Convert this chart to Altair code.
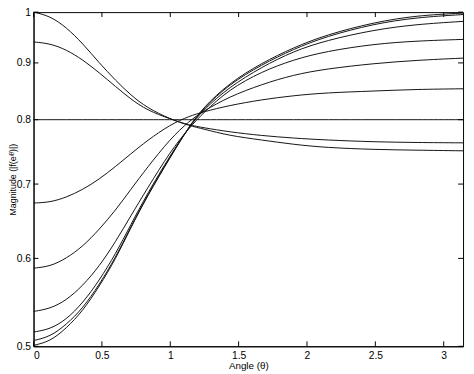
import altair as alt
import pandas as pd

theta = [0, 0.12, 0.24, 0.36, 0.48, 0.6, 0.71, 0.83, 1.0, 1.14, 1.24, 1.43,
         1.67, 1.9, 2.14, 2.49, 2.8, 3.1416]
curve_a = [1.0, 0.992, 0.969, 0.937, 0.900, 0.868, 0.842, 0.820, 0.801, 0.790,
           0.785, 0.774, 0.767, 0.760, 0.755, 0.752, 0.751, 0.750]
curve_b = [0.940, 0.937, 0.925, 0.906, 0.882, 0.857, 0.835, 0.816, 0.801, 0.791,
           0.787, 0.780, 0.774, 0.770, 0.767, 0.764, 0.763, 0.7625]
curve_c = [0.8, 0.8, 0.8, 0.8, 0.8, 0.8, 0.8, 0.8, 0.8, 0.8,
           0.8, 0.8, 0.8, 0.8, 0.8, 0.8, 0.8, 0.8]
curve_d = [0.673, 0.674, 0.681, 0.692, 0.707, 0.726, 0.745, 0.766, 0.792, 0.806,
           0.813, 0.824, 0.834, 0.841, 0.846, 0.849, 0.852, 0.853]
curve_e = [0.588, 0.590, 0.600, 0.615, 0.637, 0.663, 0.692, 0.724, 0.769, 0.798,
           0.814, 0.839, 0.861, 0.878, 0.889, 0.899, 0.905, 0.909]
curve_f = [0.5375, 0.5405, 0.550, 0.567, 0.590, 0.621, 0.655, 0.693, 0.749, 0.787,
           0.811, 0.852, 0.884, 0.906, 0.922, 0.936, 0.942, 0.945]
curve_g = [0.515, 0.518, 0.5285, 0.547, 0.573, 0.6055, 0.643, 0.6855, 0.743, 0.789,
           0.816, 0.856, 0.8925, 0.922, 0.943, 0.964, 0.975, 0.981]
curve_h = [0.506, 0.510, 0.523, 0.541, 0.568, 0.601, 0.640, 0.683, 0.741, 0.789,
           0.8186, 0.861, 0.897, 0.926, 0.951, 0.976, 0.989, 0.995]
curve_i = [0.501, 0.505, 0.519, 0.538, 0.566, 0.599, 0.639, 0.682, 0.740, 0.790,
           0.820, 0.863, 0.900, 0.929, 0.954, 0.979, 0.993, 0.998]

x_ticks = [0, 0.5, 1, 1.5, 2, 2.5, 3]
y_ticks = [0.5, 0.6, 0.7, 0.8, 0.9, 1]

curves = {"a": curve_a, "b": curve_b, "c": curve_c, "d": curve_d, "e": curve_e,
          "f": curve_f, "g": curve_g, "h": curve_h, "i": curve_i}
rows = []
for name, vals in curves.items():
    for t, v in zip(theta, vals):
        rows.append({"curve": name, "theta": t, "mag": v})
df = pd.DataFrame(rows)
df_xt = pd.DataFrame({"theta": x_ticks})
df_yt = pd.DataFrame({"mag": y_ticks})

W, H = 437, 340
FONT = "Liberation Sans"

xs = alt.Scale(domain=[0, 3.14159], nice=False, zero=False)
ys = alt.Scale(type="log", domain=[0.5, 1], nice=False)

x_enc = alt.X("theta:Q", scale=xs, title="Angle (θ)",
              axis=alt.Axis(values=x_ticks, format=".1~f", ticks=False, grid=False,
                            labelPadding=4, titleY=20, titleBaseline="middle",
                            labelFontSize=10.5, titleFontSize=10,
                            titleFontWeight="normal"))
y_enc = alt.Y("mag:Q", scale=ys, title="Magnitude (|f(eⁱᶿ)|)",
              axis=alt.Axis(values=y_ticks, format=".1~f", ticks=False, grid=False,
                            labelPadding=3, titleX=-21, titleY=H / 2,
                            titleBaseline="middle", titleAngle=-90,
                            labelFontSize=10.5, titleFontSize=9,
                            titleFontWeight="normal"))

lines = alt.Chart(df).mark_line(color="#111111", strokeWidth=1, interpolate="basis",
                                clip=True).encode(
    x=x_enc, y=y_enc, detail="curve:N")

tick_len = 5
xt_bottom = alt.Chart(df_xt).mark_rule(color="black").encode(
    x=x_enc, y=alt.value(H), y2=alt.value(H - tick_len))
xt_top = alt.Chart(df_xt).mark_rule(color="black").encode(
    x=x_enc, y=alt.value(0), y2=alt.value(tick_len))
yt_left = alt.Chart(df_yt).mark_rule(color="black").encode(
    y=y_enc, x=alt.value(0), x2=alt.value(tick_len))
yt_right = alt.Chart(df_yt).mark_rule(color="black").encode(
    y=y_enc, x=alt.value(W), x2=alt.value(W - tick_len))

chart = alt.layer(lines, xt_bottom, xt_top, yt_left, yt_right).properties(
    width=W, height=H,
    autosize=alt.AutoSizeParams(type="none"),
    padding={"left": 26, "top": 1, "right": 3, "bottom": 25},
    background="white",
).configure_view(stroke="black", strokeWidth=1).configure_axis(
    domainColor="black", domainWidth=1, labelColor="black", titleColor="black",
    labelFont=FONT, titleFont=FONT,
)

chart.save("out.html", embed_options={"renderer": "svg", "actions": False})
